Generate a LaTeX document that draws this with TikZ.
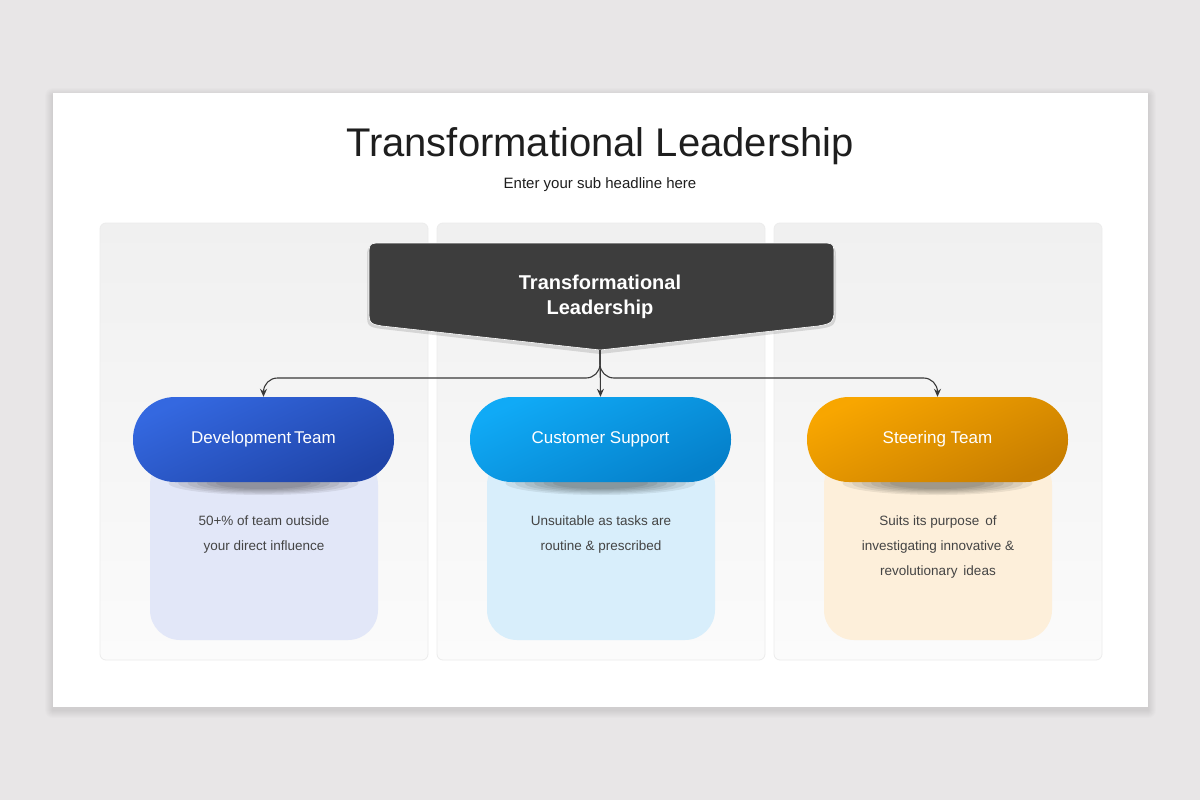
\documentclass[tikz,border=0pt]{standalone}
\usepackage{fontspec}
\setmainfont{Liberation Sans}
\usetikzlibrary{arrows.meta}
\definecolor{bgc}{HTML}{E8E6E7}
\definecolor{panelTop}{HTML}{F0F0F0}
\definecolor{panelBot}{HTML}{FBFBFB}
\definecolor{panelEdge}{HTML}{ECECEC}
\definecolor{hdr}{HTML}{3D3D3D}
\definecolor{conn}{HTML}{3A3A3A}
\definecolor{titlec}{HTML}{1E1E1E}
\definecolor{bodyc}{HTML}{444444}
\definecolor{blueA}{HTML}{3468E0}
\definecolor{blueB}{HTML}{1F44A8}
\definecolor{cyanA}{HTML}{10AAF6}
\definecolor{cyanB}{HTML}{0580CA}
\definecolor{orA}{HTML}{F8A600}
\definecolor{orB}{HTML}{C87E00}
\definecolor{cardBlue}{HTML}{E2E7F8}
\definecolor{cardCyan}{HTML}{D8EEFB}
\definecolor{cardOr}{HTML}{FDEFDA}
\begin{document}
\begin{tikzpicture}[x=1pt,y=-1pt,
  panel/.style={draw=panelEdge, line width=0.8pt, rounded corners=6pt, top color=panelTop, bottom color=panelBot,
     minimum width=328pt, minimum height=437pt, inner sep=0pt},
  card/.style={rounded corners=30pt, minimum width=228pt, minimum height=185pt, inner sep=0pt},
  pill/.style={rounded corners=42pt, minimum width=261pt, minimum height=85pt, inner sep=0pt,
     text=white, font=\fontsize{17}{20}\selectfont},
  body/.style={text=bodyc, align=center, font=\fontsize{13.5}{25}\selectfont},
  connector/.style={draw=conn, line width=1.1pt, -{Stealth[length=8pt,width=7pt]}},
  softshadow/.style={fill=black, fill opacity=0.07}
]
\useasboundingbox (0,0) rectangle (1200,800);
\fill[bgc] (0,0) rectangle (1200,800);
% slide shadow
\foreach \i in {1,...,8}{
  \fill[black, fill opacity=0.012, rounded corners=\i pt] (53-\i,93-\i+3) rectangle (1148+\i,707+\i+3);
}
\fill[white] (53,93) rectangle (1148,707);
% title
\node[anchor=base, text=titlec, font=\fontsize{40}{48}\selectfont] (title) at (600,156) {Transformational Leadership};
\node[anchor=base, text=titlec, font=\fontsize{15}{18}\selectfont] (sub) at (600,188) {Enter your sub headline here};
% panels
\node[panel] (p1) at (264,441.5) {};
\node[panel] (p2) at (601,441.5) {};
\node[panel] (p3) at (938,441.5) {};
% cards
\node[card, fill=cardBlue] (c1) at (264,547.5) {};
\node[card, fill=cardCyan] (c2) at (601,547.5) {};
\node[card, fill=cardOr] (c3) at (938,547.5) {};
% pill shadows
\foreach \cx in {263.5,600.5,937.5}{
  \foreach \s in {1.0,0.9,0.8,0.7,0.6,0.5}{
    \fill[softshadow] (\cx,483) ellipse ({95*\s} and {12*\s});
  }
}
% header shadow + shape
\fill[black, fill opacity=0.12]
  (383,246) -- (820,246) .. controls (836,246) and (836,246) .. (836,260)
  -- (836,314) .. controls (836,326) and (832,327) .. (818,329)
  -- (600,354)
  -- (382,329) .. controls (368,327) and (367,326) .. (367,314)
  -- (367,260) .. controls (367,246) and (367,246) .. (383,246) -- cycle;
\path[fill=hdr, draw=white, line width=0.6pt]
  (383,243) -- (820,243) .. controls (834,243) and (834,243) .. (834,257)
  -- (834,311) .. controls (834,323) and (830,324) .. (818,326)
  -- (600,350)
  -- (382,326) .. controls (370,324) and (369,323) .. (369,311)
  -- (369,257) .. controls (369,243) and (369,243) .. (383,243) -- cycle;
\coordinate (tip) at (600,350);
\node[text=white, align=center, font=\bfseries\fontsize{20}{25}\selectfont] (hdrtext) at (600,297) {Transformational\\Leadership};
% pills
\node[pill, top color=blueA, bottom color=blueB, shading angle=25] (dev) at (263.5,439.5) {Development\,Team};
\node[pill, top color=cyanA, bottom color=cyanB, shading angle=25] (cus) at (600.5,439.5) {Customer Support};
\node[pill, top color=orA, bottom color=orB, shading angle=25] (ste) at (937.5,439.5) {Steering Team};
% body texts
\node[body] (t1) at (264,535) {50+\% of team outside\\your direct influence};
\node[body] (t2) at (601,535) {Unsuitable as tasks are\\routine \& prescribed};
\node[body] (t3) at (938,547.5) {Suits its purpose\, of\\investigating innovative \&\\revolutionary\, ideas};
% connectors
\coordinate (bus) at (600,378);
\draw[connector, rounded corners=14pt] (tip) |- (bus -| dev.north) -- (dev.north);
\draw[connector, rounded corners=14pt] (tip) |- (bus -| ste.north) -- (ste.north);
\draw[connector] (tip) -- (cus.north);
\end{tikzpicture}
\end{document}
